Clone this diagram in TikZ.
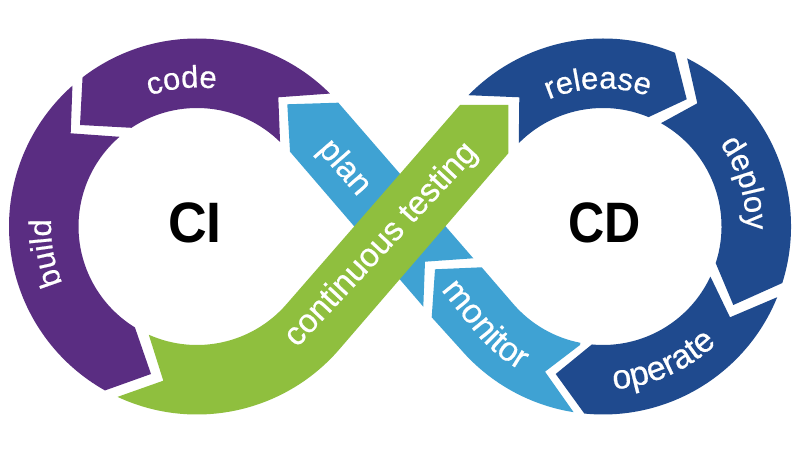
\documentclass[tikz,border=0pt]{standalone}
\usepackage{fontspec}
\setmainfont{Liberation Sans}
\newfontfamily\lblfam[FakeBold=0.6]{Liberation Sans}
\usetikzlibrary{calc,decorations.text}
\definecolor{cipurple}{HTML}{5A2D82}
\definecolor{cdblue}{HTML}{1F4A8E}
\definecolor{skyblue}{HTML}{3FA2D3}
\definecolor{testgreen}{HTML}{8FBF3E}
\newcommand{\lblf}{\lblfam\fontsize{31}{31}\selectfont\color{white}}
\newcommand{\lblg}{\lblfam\fontsize{34}{34}\selectfont\color{white}}
\tikzset{
  curved label/.style={decorate,decoration={text along path,text={|\lblf|#1},text align=center}},
  large curved label/.style={decorate,decoration={text along path,text={|\lblg|#1},text align=center}},
  left label/.style={decorate,decoration={text along path,text={|\lblg|#1},text align=left}},
  band label/.style={text=white,font=\lblfam\fontsize{33}{33}\selectfont,inner sep=0pt},
  big label/.style={text=black,font=\fontsize{57}{57}\selectfont\bfseries,inner sep=0pt}
}
\begin{document}
\begin{tikzpicture}[x=1pt,y=1pt]
\useasboundingbox (0,0) rectangle (800,457);
\fill[white] (0,0) rectangle (800,457);
\coordinate (cl) at (197,230.5);
\coordinate (cr) at (603,230.5);
% code
\fill[cipurple] ($(cl)+(127.5:188)$) arc[start angle=127.5,end angle=45,radius=188] -- (278.3,359.7) -- ($(cl)+(45.5:118.5)$) arc[start angle=45.5,end angle=123.6,radius=118.5] -- (80,332) -- cycle;
% build
\fill[cipurple] ($(cl)+(131.5:188)$) arc[start angle=131.5,end angle=240.7,radius=188] -- (151,83) -- ($(cl)+(238.4:118.5)$) arc[start angle=238.4,end angle=130.8,radius=118.5] -- (70.7,323.7) -- cycle;
% plan
\fill[skyblue] (287.3,352.7) -- (338.3,354.3) -- (473.3,198.7) -- (425,195.3) -- (423.3,150.3) -- (290,305.3) -- cycle;
% continuous testing
\fill[testgreen] ($(cl)+(245:188)$) arc[start angle=245,end angle=319,radius=188] -- (508.3,303.7) -- (508.3,352) -- (460,352) -- ($(cl)+(319:118.5)$) arc[start angle=319,end angle=246,radius=118.5] -- (163.3,76.3) -- cycle;
% monitor
\fill[skyblue] (435,187.7) -- (481.7,189.7) -- ($(cr)+(221:118.5)$) arc[start angle=221,end angle=259,radius=118.5] -- (580,112) -- (545,85.3) -- ($(cr)+(261:188)$) arc[start angle=261,end angle=221,radius=188] -- (431.7,139.7) -- cycle;
% operate
\fill[cdblue] (555.7,83) -- ($(cr)+(264.6:118.5)$) arc[start angle=264.6,end angle=335,radius=118.5] -- (730,139.7) -- ($(cr)+(337.9:188)$) arc[start angle=337.9,end angle=264.3,radius=188] -- cycle;
% deploy
\fill[cdblue] ($(cr)+(63.4:188)$) arc[start angle=63.4,end angle=-17.5,radius=188] -- (733.3,152) -- ($(cr)+(-18:118.5)$) arc[start angle=-18,end angle=60.7,radius=118.5] -- (697.3,353.7) -- cycle;
% release
\fill[cdblue] ($(cr)+(135.7:188)$) arc[start angle=135.7,end angle=67.5,radius=188] -- (686.7,357.7) -- ($(cr)+(67.4:118.5)$) arc[start angle=67.4,end angle=135.3,radius=118.5] -- (519.3,359.7) -- cycle;
% labels
\path[curved label=code] ($(cl)+(136:139)$) arc[start angle=136,end angle=56,radius=139];
\path[curved label=build] ($(cl)+(230:146)$) arc[start angle=230,end angle=150,radius=146];
\path[curved label=release] ($(cr)+(132:138)$) arc[start angle=132,end angle=52,radius=138];
\path[curved label=deploy] ($(cr)+(57:143)$) arc[start angle=57,end angle=-23,radius=143];
\path[large curved label=operate] ($(cr)+(254:163)$) arc[start angle=254,end angle=334,radius=163];
\path[left label=monitor] (441,167) -- ($(cr)+(221:166)$) arc[start angle=221,end angle=262,radius=166];
\node[band label,rotate=-49] (plan) at (344,289) {plan};
\node[band label,rotate=47] (ct) at (381.5,212) {continuous testing};
\node[big label,xscale=.94] (ci) at (195,234) {CI};
\node[big label,xscale=.88] (cd) at (605,234) {CD};
\end{tikzpicture}
\end{document}
